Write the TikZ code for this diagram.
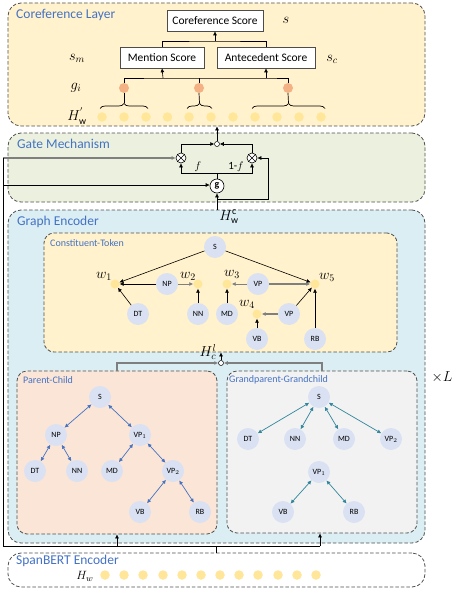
\documentclass[tikz,border=0pt]{standalone}
\usepackage{fontspec}
\setmainfont{Carlito}
\usetikzlibrary{arrows.meta,decorations.pathreplacing,calc}
\definecolor{corefill}{HTML}{FFF2CC}
\definecolor{gatefill}{HTML}{EBF1DE}
\definecolor{gefill}{HTML}{DAEEF3}
\definecolor{pcfill}{HTML}{FBE5D6}
\definecolor{gpfill}{HTML}{F2F2F2}
\definecolor{titleblue}{HTML}{4472C4}
\definecolor{nodefill}{HTML}{D9E1F2}
\definecolor{dotyellow}{HTML}{FFE699}
\definecolor{dotorange}{HTML}{F4B183}
\definecolor{bordergray}{HTML}{505050}
\definecolor{linegray}{HTML}{7F7F7F}
\definecolor{tealc}{HTML}{31859C}
\begin{document}
\begin{tikzpicture}[x=1pt,y=-1pt,
  layer/.style={draw=bordergray, dash pattern=on 3.5pt off 2pt, line width=0.8pt, rounded corners=13pt, inner sep=0pt},
  sublayer/.style={layer, rounded corners=10pt},
  ttl/.style={anchor=west, text=titleblue, font=\fontsize{13.5}{15}\selectfont, inner sep=0pt},
  subttl/.style={anchor=west, text=titleblue, font=\fontsize{10}{12}\selectfont, inner sep=0pt},
  scorebox/.style={draw=black!70, fill=white, line width=0.6pt, minimum height=21pt, inner sep=0pt, font=\fontsize{11.5}{13}\selectfont},
  lbl/.style={font=\fontsize{14}{16}\selectfont, inner sep=0pt},
  ydot/.style={circle, fill=dotyellow, minimum size=9.5pt, inner sep=0pt},
  odot/.style={circle, fill=dotorange, minimum size=10pt, inner sep=0pt},
  tnode/.style={circle, fill=nodefill, minimum size=22pt, inner sep=0pt, font=\fontsize{8}{9}\selectfont},
  arr/.style={-{Latex[length=4pt,width=4pt]}, line width=0.6pt},
  garr/.style={-{Latex[length=4pt,width=4pt]}, line width=1.2pt, draw=linegray},
  barr/.style={{Latex[length=4pt,width=4pt]}-{Latex[length=4pt,width=4pt]}, line width=0.7pt, draw=titleblue},
  tarr/.style={{Latex[length=4pt,width=4pt]}-{Latex[length=4pt,width=4pt]}, line width=0.7pt, draw=tealc},
  mult/.style={circle, draw, fill=white, minimum size=10pt, inner sep=0pt, line width=0.6pt},
  brc/.style={decorate, decoration={brace, amplitude=5pt}, line width=0.7pt}
]
\useasboundingbox (0,0) rectangle (455,591);

% ---------- layer boxes ----------
\node[layer, fill=corefill, minimum width=417pt, minimum height=123pt] (coref) at (216.5,64.5) {};
\node[layer, fill=gatefill, minimum width=417pt, minimum height=69pt] (gate) at (216.5,167.5) {};
\node[layer, fill=gefill, minimum width=417pt, minimum height=333pt] (ge) at (216.5,376.5) {};
\node[sublayer, fill=corefill, minimum width=353pt, minimum height=119pt] (ct) at (220.5,292.5) {};
\node[sublayer, fill=pcfill, minimum width=200pt, minimum height=163pt] (pc) at (117,452.5) {};
\node[sublayer, fill=gpfill, minimum width=190pt, minimum height=162pt] (gp) at (322,452) {};
\node[layer, fill=white, minimum width=417pt, minimum height=34pt] (sb) at (216.5,570) {};

% ---------- titles ----------
\node[ttl] (t1) at (16,15) {Coreference Layer};
\node[ttl] (t2) at (17,144) {Gate Mechanism};
\node[ttl] (t3) at (17,222) {Graph Encoder};
\node[subttl] (t4) at (50,243) {Constituent-Token};
\node[subttl] (t5) at (23,380) {Parent-Child};
\node[subttl] (t6) at (229,380) {Grandparent-Grandchild};
\node[ttl] (t7) at (16,561) {SpanBERT Encoder};

% ---------- coreference layer ----------
\node[scorebox, minimum width=96pt] (cs) at (215,20.5) {Coreference Score};
\node[scorebox, minimum width=84pt] (ms) at (162,57.5) {Mention Score};
\node[scorebox, minimum width=98pt] (as) at (266,57.5) {Antecedent Score};
\node[lbl] (ls) at (286,20) {$s$};
\node[lbl] (lsm) at (77,58) {$s_m$};
\node[lbl] (lsc) at (332,59) {$s_c$};
\node[lbl] (lgi) at (76,88) {$g_i$};
\node[lbl] (lhw) at (77,116) {$H^{'}_{\mathrm{w}}$};

\coordinate (j1) at (215,41);
\draw[line width=0.6pt] (ms.north) |- (j1) -| (as.north);
\draw[arr] (j1) -- (cs.south);

\node[odot] (g1) at (124,88) {};
\node[odot] (g2) at (199,88) {};
\node[odot] (g3) at (288,88) {};
\coordinate (j2) at (163,78);
\coordinate (j3) at (266,78);
\draw[line width=0.6pt] (g1.north) |- (j2) -- (j3) -| (g3.north);
\draw[line width=0.6pt] (g2.north) -- (g2.north |- j2);
\draw[arr] (j2) -- (ms.south);
\draw[arr] (j3) -- (as.south);

\foreach \i/\x in {1/102,2/124,3/146,4/167.5,5/189,6/211,7/233,8/255,9/277,10/299,11/321}
  \node[ydot] (h\i) at (\x,117) {};

\draw[brc] (100,108.5) -- (148,108.5);
\draw[brc] (187,108.5) -- (212,108.5);
\draw[brc] (252,108.5) -- (325,108.5);
\coordinate (b1) at (124,103);
\coordinate (b2) at (199.5,103);
\coordinate (b3) at (288.5,103);
\draw[line width=0.7pt] (b1) -- (g1.south);
\draw[line width=0.7pt] (b2) -- (g2.south);
\draw[line width=0.7pt] (b3) -- (g3.south);

% ---------- gate mechanism ----------
\node[mult] (m1) at (181,158) {};
\node[mult] (m2) at (252,158) {};
\draw[line width=0.6pt] (m1.north west) -- (m1.south east) (m1.north east) -- (m1.south west);
\draw[line width=0.6pt] (m2.north west) -- (m2.south east) (m2.north east) -- (m2.south west);
\node[circle, draw, fill=white, minimum size=5pt, inner sep=0pt, line width=0.5pt] (mg) at (217,144) {};
\node[circle, draw, fill=white, minimum size=14pt, inner sep=0pt, line width=0.6pt] (gg) at (217,186) {$\mathbf{g}$};
\draw[arr] (m1.north) |- (mg.west);
\draw[arr] (m2.north) |- (mg.east);
\draw[arr] (mg.north) -- (mg.north |- coref.south);
\coordinate (gj) at (217,173);
\draw[line width=0.6pt] (gg.north) -- (gj);
\draw[arr] (gj) -| (m1.south);
\draw[arr] (gj) -| (m2.south);
\node[font=\fontsize{11}{12}\selectfont] (lf) at (198,167) {$f$};
\node[font=\fontsize{11}{12}\selectfont] (l1f) at (236,167) {1-$f$};

\coordinate (gb) at (217,199);
\coordinate (gr) at (268,199);
\draw[arr] (gg |- ge.north) -- (gg.south);
\draw[arr] (gb) -- (gr) |- (m2.east);
\node[lbl] (lhwc) at (229,217) {$H^{\mathrm{c}}_{\mathrm{w}}$};

% left feed lines
\coordinate (L1) at (3,158);
\coordinate (L2) at (3,185);
\coordinate (L3) at (3,546);
\coordinate (R3) at (320,546);
\draw[garr] (L1) -- (m1.west);
\draw[arr] (L2) -- (gg.west |- L2);
\draw[line width=0.6pt] (L1) -- (L3) -- (R3);
\draw[line width=0.6pt] (sb.north) -- (sb.north |- L3);
\draw[arr] (pc.south |- L3) -- (pc.south);
\draw[arr] (R3) -- (R3 |- gp.south);

% ---------- constituent-token ----------
\node[tnode] (cS) at (215,247) {S};
\node[ydot, minimum size=9pt] (w1) at (115,284) {};
\node[tnode] (cNP) at (167,284) {NP};
\node[ydot, minimum size=9pt] (w2) at (198,284) {};
\node[ydot, minimum size=9pt] (w3) at (227,284) {};
\node[tnode] (cVP) at (258,284) {VP};
\node[ydot, minimum size=9pt] (w5) at (315,284) {};
\node[tnode] (cDT) at (138,314) {DT};
\node[tnode] (cNN) at (198,314) {NN};
\node[tnode] (cMD) at (227,314) {MD};
\node[ydot, minimum size=9pt] (w4) at (257,314) {};
\node[tnode] (cVP2) at (289,314) {VP};
\node[tnode] (cVB) at (257,339) {VB};
\node[tnode] (cRB) at (315,339) {RB};
\node[lbl] (lw1) at (104,276) {$w_1$};
\node[lbl] (lw2) at (188,276) {$w_2$};
\node[lbl] (lw3) at (232,274) {$w_3$};
\node[lbl] (lw4) at (247,304) {$w_4$};
\node[lbl] (lw5) at (327,277) {$w_5$};

\draw[arr] (cS) -- (w1);
\draw[arr] (cS) -- (w5);
\draw[arr] (cNP) -- (w1);
\draw[garr, line width=1pt] (cNP) -- (w2);
\draw[garr, line width=1pt] (cVP) -- (w3);
\draw[garr, line width=1.2pt] (cVP) -- (w5);
\draw[garr, line width=1.2pt] (cVP2) -- (w4);
\draw[arr] (cDT) -- (w1);
\draw[arr] (cNN) -- (w2);
\draw[arr] (cMD) -- (w3);
\draw[arr] (cVB) -- (w4);
\draw[arr] (cVP2) -- (w5);
\draw[arr] (cRB) -- (w5);

% merge into constituent box
\node[circle, draw, fill=white, minimum size=5pt, inner sep=0pt, line width=0.5pt] (hm) at (221,363) {};
\draw[arr] (hm.north) -- (hm |- ct.south);
\draw[garr] (pc.north) |- (hm.west);
\draw[garr] (gp.north) |- (hm.east);
\node[lbl] (lhcl) at (208,352) {$H_c^l$};

% ---------- parent-child ----------
\node[tnode] (pS) at (100,397) {S};
\node[tnode] (pNP) at (56,435) {NP};
\node[tnode] (pVP1) at (140,435) {VP$_1$};
\node[tnode] (pDT) at (35,471) {DT};
\node[tnode] (pNN) at (77,471) {NN};
\node[tnode] (pMD) at (112,471) {MD};
\node[tnode] (pVP2) at (173,471) {VP$_2$};
\node[tnode] (pVB) at (140,512) {VB};
\node[tnode] (pRB) at (200,512) {RB};
\draw[barr] (pS) -- (pNP);
\draw[barr] (pS) -- (pVP1);
\draw[barr] (pNP) -- (pDT);
\draw[barr] (pNP) -- (pNN);
\draw[barr] (pVP1) -- (pMD);
\draw[barr] (pVP1) -- (pVP2);
\draw[barr] (pVP2) -- (pVB);
\draw[barr] (pVP2) -- (pRB);

% ---------- grandparent-grandchild ----------
\node[tnode] (gS) at (319,397) {S};
\node[tnode] (gDT) at (248,439) {DT};
\node[tnode] (gNN) at (295,439) {NN};
\node[tnode] (gMD) at (344,439) {MD};
\node[tnode] (gVP2) at (391,439) {VP$_2$};
\node[tnode] (gVP1) at (319,472) {VP$_1$};
\node[tnode] (gVB) at (283,512) {VB};
\node[tnode] (gRB) at (354,512) {RB};
\draw[tarr] (gS) -- (gDT);
\draw[tarr] (gS) -- (gNN);
\draw[tarr] (gS) -- (gMD);
\draw[tarr] (gS) -- (gVP2);
\draw[tarr] (gVP1) -- (gVB);
\draw[tarr] (gVP1) -- (gRB);

\node[lbl] (lL) at (442,377) {$\times L$};

% ---------- SpanBERT ----------
\node[lbl, font=\fontsize{13}{15}\selectfont] (lhw0) at (85,576) {$H_w$};
\foreach \i/\x in {1/105,2/124,3/143,4/163,5/182,6/201,7/220,8/239,9/258,10/278,11/297,12/316}
  \node[ydot] (s\i) at (\x,575) {};
\end{tikzpicture}
\end{document}
